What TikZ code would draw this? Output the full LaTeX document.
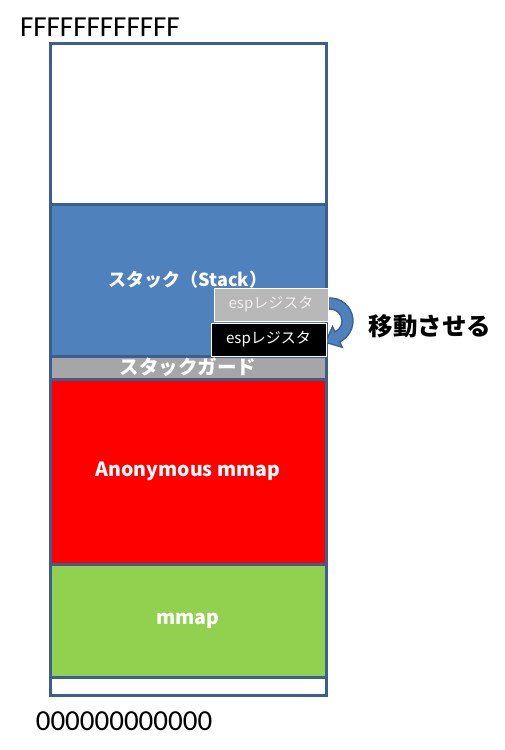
\documentclass[tikz,border=0pt]{standalone}
\usepackage{fontspec}
\setmainfont{Carlito}
\newfontfamily\jp{Noto Sans CJK JP}
\definecolor{bord}{HTML}{3B5F8F}
\definecolor{stackblue}{HTML}{4F81BD}
\definecolor{guardgray}{HTML}{A6A6A6}
\definecolor{espgray}{HTML}{B8B8B8}
\definecolor{esptext}{HTML}{EEEEEE}
\definecolor{mmapgreen}{HTML}{92D050}
\tikzset{
  sec/.style={draw=bord, line width=3pt, rectangle, anchor=north west, outer sep=0pt, inner sep=0pt, minimum width=276pt, text=white},
  esp/.style={draw=white, line width=0.8pt, rectangle, anchor=north west, outer sep=0pt, inner sep=0pt},
  addr/.style={font=\fontsize{29}{30}\selectfont, inner sep=0pt}
}
\begin{document}
\begin{tikzpicture}[x=1pt,y=-1pt]
\useasboundingbox (0,0) rectangle (504,750);
\fill[white] (0,0) rectangle (504,750);
% sections
\node[sec, fill=white, minimum height=652pt] (outer) at (50,43) {};
\node[sec, fill=stackblue, minimum height=152pt, font=\jp\bfseries\fontsize{18}{20}\selectfont] (stack) at (50,204) {\raisebox{-3pt}{スタック（Stack）}};
\node[sec, fill=guardgray, minimum height=23pt, font=\jp\bfseries\fontsize{19.5}{20}\selectfont] (guard) at (50,356) {スタックガード};
\node[sec, fill=red, minimum height=185pt, font=\jp\bfseries\fontsize{19.5}{20}\selectfont] (anon) at (50,379) {Anonymous mmap};
\node[sec, fill=mmapgreen, minimum height=113pt, font=\jp\bfseries\fontsize{19.5}{20}\selectfont] (mmap) at (50,564) {mmap};
\node[sec, fill=white, minimum height=18pt] (bottom) at (50,677) {};
\draw[bord, line width=3pt] (outer.north west) rectangle (outer.south east);
% curved arrow
\filldraw[fill=stackblue, draw=bord, line width=1.3pt]
  (328,298) arc[start angle=-95, end angle=65, radius=23]
  -- (342.3,347.3) -- (325.6,342.4) -- (332.5,326.4) -- (335.1,331.9)
  arc[start angle=65, end angle=-95, radius=12] -- cycle;
% esp boxes
\node[esp, fill=espgray, minimum width=114pt, minimum height=33pt, text=esptext, font=\jp\fontsize{15}{16}\selectfont] (espold) at (214,288) {espレジスタ};
\node[esp, fill=black, minimum width=115pt, minimum height=33pt, text=white, font=\jp\fontsize{15}{16}\selectfont] (espnew) at (211,323) {espレジスタ};
\node[font=\jp\bfseries\fontsize{24.5}{26}\selectfont, inner sep=0pt] (move) at (430,326) {移動させる};
% addresses
\node[addr] (ftop) at (100,27) {FFFFFFFFFFFF};
\node[addr] (zbot) at (124,721) {000000000000};
\end{tikzpicture}
\end{document}
